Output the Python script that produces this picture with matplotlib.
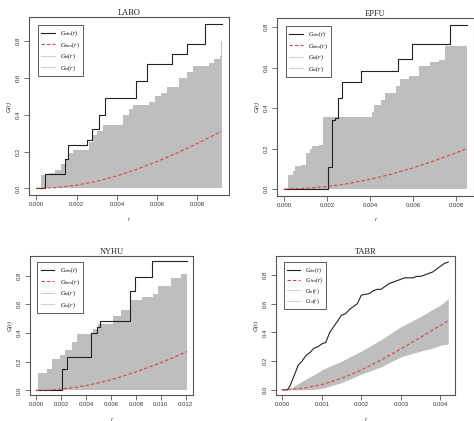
import numpy as np
import matplotlib
matplotlib.use("Agg")
import matplotlib.pyplot as plt
from matplotlib.lines import Line2D

# ---------------- data ----------------
titles = ["LABO", "EPFU", "NYHU", "TABR"]

# LABO
labo_obs_r = [0, 0.00042, 0.00142, 0.00158, 0.00253, 0.00275, 0.0031, 0.0034, 0.00497, 0.0055, 0.00675, 0.0075, 0.00837, 0.0092]
labo_obs_v = [0, 0.078, 0.16, 0.235, 0.265, 0.32, 0.40, 0.49, 0.585, 0.677, 0.73, 0.785, 0.892, 0.892]
labo_hi_r = [0, 0.00025, 0.0006, 0.0009, 0.0012, 0.0014, 0.0016, 0.0018, 0.0026, 0.0028, 0.0030, 0.0033, 0.0043,
             0.0046, 0.0048, 0.0056, 0.0059, 0.0062, 0.0065, 0.0071, 0.0075, 0.0078, 0.0086, 0.0088, 0.0091, 0.00915, 0.0092]
labo_hi_v = [0, 0.07, 0.085, 0.10, 0.13, 0.16, 0.19, 0.21, 0.25, 0.29, 0.31, 0.345, 0.40,
             0.43, 0.45, 0.47, 0.50, 0.52, 0.55, 0.60, 0.63, 0.665, 0.68, 0.70, 0.72, 0.80, 0.80]
labo_theo_r = [0, 0.001, 0.002, 0.003, 0.004, 0.005, 0.006, 0.007, 0.008, 0.009, 0.0092]
labo_theo_v = [0, 0.0044, 0.0174, 0.0387, 0.0678, 0.104, 0.146, 0.193, 0.244, 0.299, 0.310]

# EPFU
epfu_obs_r = [0, 0.00203, 0.0022, 0.00235, 0.0025, 0.0027, 0.00356, 0.00531, 0.00596, 0.0077, 0.0085]
epfu_obs_v = [0, 0.11, 0.34, 0.35, 0.45, 0.53, 0.586, 0.645, 0.716, 0.813, 0.813]
epfu_hi_r = [0, 0.00015, 0.0004, 0.0005, 0.0008, 0.0010, 0.0012, 0.0013, 0.0016, 0.0018, 0.0041, 0.0042, 0.0045,
             0.0047, 0.0052, 0.0054, 0.0058, 0.0063, 0.0068, 0.0072, 0.0075, 0.0085]
epfu_hi_v = [0, 0.069, 0.09, 0.115, 0.12, 0.18, 0.20, 0.215, 0.22, 0.355, 0.38, 0.415, 0.44,
             0.477, 0.51, 0.545, 0.56, 0.61, 0.63, 0.64, 0.708, 0.708]
epfu_theo_r = [0, 0.001, 0.002, 0.003, 0.004, 0.005, 0.006, 0.007, 0.008, 0.0085]
epfu_theo_v = [0, 0.0031, 0.0123, 0.0274, 0.048, 0.074, 0.105, 0.140, 0.179, 0.200]

# NYHU
nyhu_obs_r = [0, 0.00212, 0.0025, 0.0044, 0.0049, 0.0051, 0.0075, 0.0079, 0.0093, 0.0121]
nyhu_obs_v = [0, 0.152, 0.23, 0.40, 0.44, 0.48, 0.69, 0.79, 0.90, 0.90]
nyhu_hi_r = [0, 0.0002, 0.0009, 0.0013, 0.0019, 0.0023, 0.0029, 0.0033, 0.0046, 0.0050, 0.0062, 0.0068,
             0.0075, 0.0085, 0.0094, 0.0098, 0.0108, 0.0116, 0.0121]
nyhu_hi_v = [0, 0.124, 0.15, 0.22, 0.25, 0.283, 0.335, 0.39, 0.43, 0.46, 0.52, 0.56,
             0.63, 0.65, 0.67, 0.73, 0.786, 0.81, 0.81]
nyhu_theo_r = [0, 0.001, 0.002, 0.003, 0.004, 0.005, 0.006, 0.007, 0.008, 0.009, 0.010, 0.011, 0.0121]
nyhu_theo_v = [0, 0.0021, 0.0086, 0.0192, 0.034, 0.052, 0.074, 0.100, 0.129, 0.160, 0.193, 0.229, 0.270]

# TABR
tabr_obs_r = [0, 0.00013, 0.0002, 0.0003, 0.0004, 0.0005, 0.0006, 0.0007, 0.0008, 0.0009, 0.0010, 0.0011, 0.0012,
              0.0013, 0.0014, 0.0015, 0.0016, 0.0017, 0.0018, 0.0019, 0.0020, 0.0021, 0.0022, 0.0023, 0.0024,
              0.0025, 0.0026, 0.0027, 0.0028, 0.0029, 0.0030, 0.0031, 0.0032, 0.0033, 0.0034, 0.0035, 0.0036,
              0.0037, 0.0038, 0.0039, 0.0040, 0.0041, 0.0042]
tabr_obs_v = [0, 0.0, 0.03, 0.10, 0.17, 0.20, 0.24, 0.26, 0.29, 0.30, 0.32, 0.33, 0.40,
              0.44, 0.48, 0.52, 0.53, 0.56, 0.58, 0.60, 0.66, 0.665, 0.67, 0.69, 0.70,
              0.70, 0.72, 0.74, 0.75, 0.76, 0.77, 0.78, 0.78, 0.78, 0.79, 0.79, 0.80,
              0.81, 0.82, 0.84, 0.86, 0.88, 0.89]
tabr_env_r = [0, 0.0002, 0.0005, 0.0009, 0.0010, 0.0015, 0.0020, 0.0025, 0.0030, 0.0035, 0.0038, 0.0040, 0.0042]
tabr_hi_v = [0, 0.01, 0.06, 0.12, 0.14, 0.20, 0.27, 0.35, 0.44, 0.51, 0.56, 0.59, 0.635]
tabr_lo_v = [0, 0.0, 0.0, 0.005, 0.01, 0.05, 0.11, 0.16, 0.23, 0.27, 0.29, 0.31, 0.32]
tabr_theo_r = [0, 0.0005, 0.001, 0.0015, 0.002, 0.0025, 0.003, 0.0035, 0.004, 0.0042]
tabr_theo_v = [0, 0.0093, 0.0366, 0.080, 0.138, 0.208, 0.285, 0.366, 0.449, 0.480]

x_ticks = [[0, 0.002, 0.004, 0.006, 0.008],
           [0, 0.002, 0.004, 0.006, 0.008],
           [0, 0.002, 0.004, 0.006, 0.008, 0.010, 0.012],
           [0, 0.001, 0.002, 0.003, 0.004]]
y_ticks = [0.0, 0.2, 0.4, 0.6, 0.8]
legend_labels = [r"$G_{obs}(r)$", r"$G_{theo}(r)$", r"$G_{hi}(r)$", r"$G_{lo}(r)$"]

# ---------------- style ----------------
plt.rcParams['font.family'] = ['Liberation Sans', 'DejaVu Sans']
plt.rcParams['mathtext.fontset'] = 'custom'
plt.rcParams['mathtext.rm'] = 'Liberation Serif'
plt.rcParams['mathtext.it'] = 'Liberation Serif:italic'

GRAY = '#bebebe'
OBS = '#222222'
THEO = '#e04040'
SPINE = '#555555'

fig = plt.figure(figsize=(4.74, 4.21), dpi=100)

W, H = 474.0, 421.0
rects = [
    (29, 229, 17, 195),
    (277, 474, 18, 195.6),
    (30, 193, 256, 395),
    (276, 455, 256, 395),
]
xlims = [(-0.00037, 0.00957), (-0.00034, 0.00884), (-0.00048, 0.01258), (-0.00016, 0.00437)]
ylims = [(-0.036, 0.93), (-0.0325, 0.846), (-0.032, 0.936), (-0.036, 0.932)]

def make_ax(i):
    l, r, t, b = rects[i]
    ax = fig.add_axes([l / W, 1 - b / H, (r - l) / W, (b - t) / H])
    ax.set_xlim(*xlims[i])
    ax.set_ylim(*ylims[i])
    for s in ax.spines.values():
        s.set_color(SPINE)
        s.set_linewidth(0.8)
    ax.set_xticks(x_ticks[i])
    ax.set_xticklabels([f"{v:.3f}" for v in x_ticks[i]])
    yt = [v for v in y_ticks if v <= ylims[i][1]]
    ax.set_yticks(yt)
    ax.set_yticklabels([f"{v:.1f}" for v in yt], rotation=90, va='center')
    ax.tick_params(axis='both', length=3.5, width=0.6, color=SPINE, labelsize=4.3,
                   labelcolor='#333333')
    ax.tick_params(axis='x', pad=1.5)
    ax.tick_params(axis='y', pad=2.5)
    ax.set_title(titles[i], fontfamily='Liberation Serif', fontsize=6, pad=1.5, color='#222222')
    ax.set_xlabel("r", fontsize=4.5, labelpad=7, color='#333333', fontstyle='italic')
    ax.set_ylabel("G(r)", fontsize=4.5, labelpad=3, color='#333333', fontstyle='italic')
    return ax

def add_legend(ax, spacing=0.3, fs=4.3):
    handles = [Line2D([], [], color=OBS, lw=0.8),
               Line2D([], [], color=THEO, lw=0.8, ls=(0, (3, 2))),
               Line2D([], [], color='#d0d0d0', lw=0.8),
               Line2D([], [], color='#d0d0d0', lw=0.8)]
    leg = ax.legend(handles, legend_labels, loc='upper left', bbox_to_anchor=(0.045, 0.955),
                    fontsize=fs, frameon=True, fancybox=False, handlelength=2.3,
                    handletextpad=0.9, labelspacing=spacing, borderpad=0.55, borderaxespad=0)
    leg.get_frame().set_edgecolor('#333333')
    leg.get_frame().set_linewidth(0.7)

step_panels = [
    (labo_obs_r, labo_obs_v, labo_hi_r, labo_hi_v, labo_theo_r, labo_theo_v),
    (epfu_obs_r, epfu_obs_v, epfu_hi_r, epfu_hi_v, epfu_theo_r, epfu_theo_v),
    (nyhu_obs_r, nyhu_obs_v, nyhu_hi_r, nyhu_hi_v, nyhu_theo_r, nyhu_theo_v),
]

for i, (orr, ov, hr, hv, tr, tv) in enumerate(step_panels):
    ax = make_ax(i)
    ax.fill_between(hr, np.zeros(len(hr)), hv, step='post', color=GRAY, lw=0)
    ax.plot(orr, ov, drawstyle='steps-post', color=OBS, lw=0.8)
    ax.plot(tr, tv, color=THEO, lw=0.8, ls=(0, (3, 2)))
    add_legend(ax)

ax = make_ax(3)
ax.fill_between(tabr_env_r, tabr_lo_v, tabr_hi_v, color=GRAY, lw=0)
ax.plot(tabr_obs_r, tabr_obs_v, color=OBS, lw=0.8)
ax.plot(tabr_theo_r, tabr_theo_v, color=THEO, lw=0.8, ls=(0, (3, 2)))
add_legend(ax, spacing=0.1, fs=4.0)

fig.savefig("out.png", dpi=100)
